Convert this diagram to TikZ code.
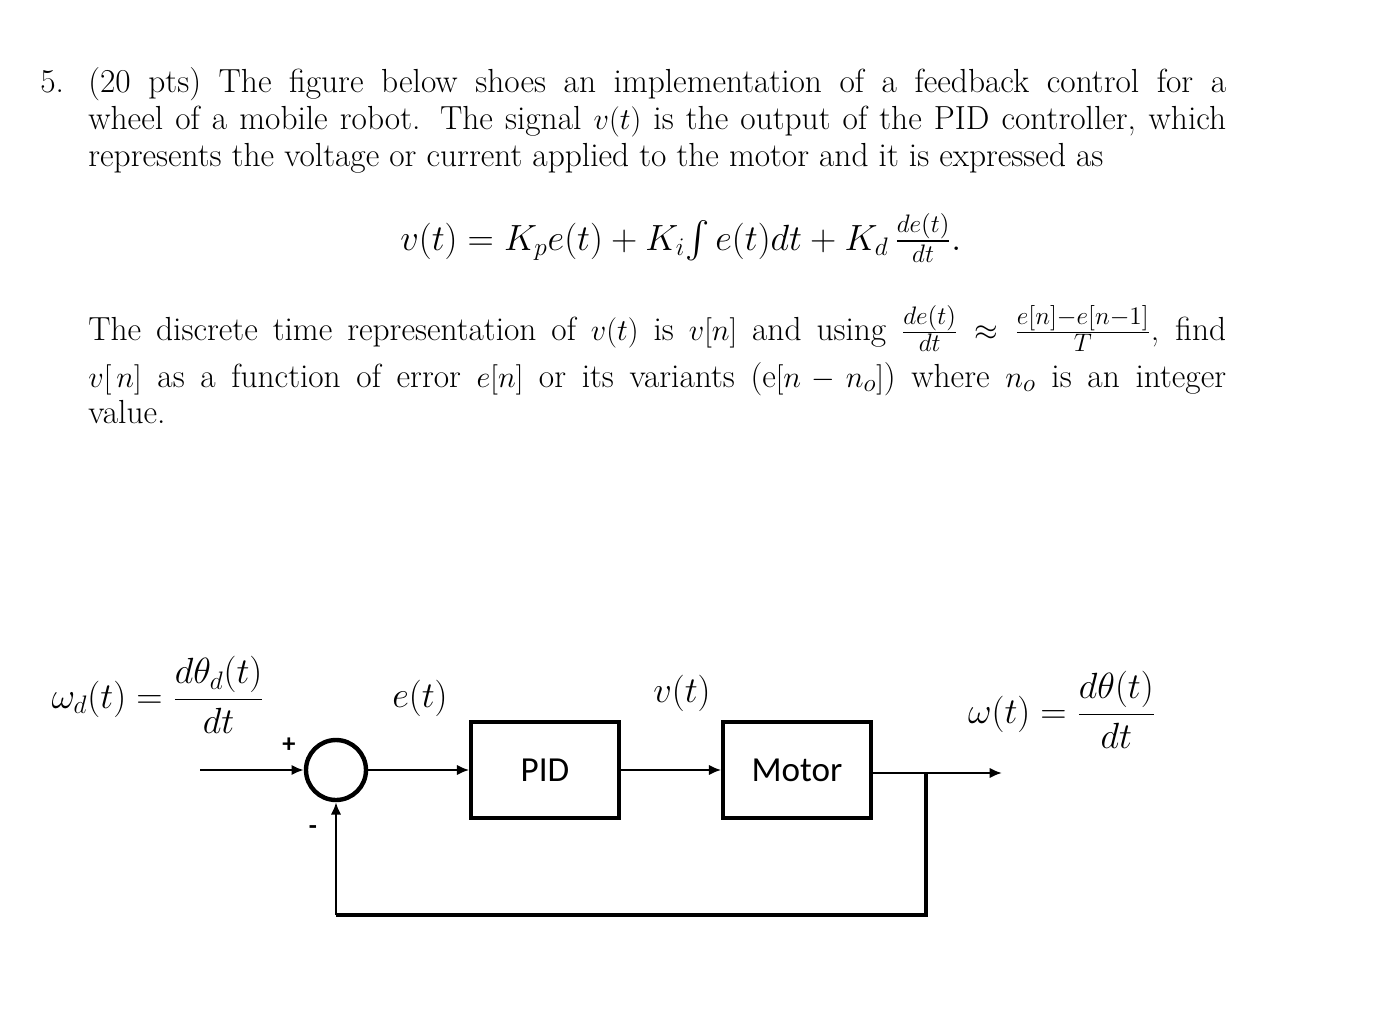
\documentclass[tikz,border=0pt]{standalone}
\usepackage{amsmath}
\usepackage{fontspec}
\setsansfont{Carlito}
\usetikzlibrary{arrows.meta}
\begin{document}
\begin{tikzpicture}[x=0.02cm,y=-0.02cm,
  txt/.style={anchor=base west,inner sep=0,font=\fontsize{19}{22}\selectfont},
  blk/.style={draw,line width=2pt,minimum width=2.96cm,minimum height=1.92cm,font=\sffamily\fontsize{20}{24}\selectfont},
  lbl/.style={font=\fontsize{20}{24}\selectfont},
  sig/.style={line width=1.5pt,-{Latex[length=7pt,width=6pt]}},
  ln/.style={line width=1.8pt}]
\useasboundingbox (0,0) rectangle (1386,1022);
\node[txt] (q5) at (40,92) {5.};
\node[txt] (l1) at (88,92) {\makebox[22.76cm][s]{(20 pts) The figure below shoes an implementation of a feedback control for a}};
\node[txt] (l2) at (88,129) {\makebox[22.76cm][s]{wheel of a mobile robot. The signal $v(t)$ is the output of the PID controller, which}};
\node[txt] (l3) at (88,166) {represents the voltage or current applied to the motor and it is expressed as};
\node[txt,font=\fontsize{19.5}{22}\selectfont] (eq) at (400,250) {$v(t) = K_p e(t) + K_i\!\int e(t)dt + K_d\,\frac{de(t)}{dt}.$};
\node[txt] (l4) at (88,340) {\makebox[22.76cm][s]{The discrete time representation of $v(t)$ is $v[n]$ and using $\frac{de(t)}{dt}\approx\frac{e[n]-e[n-1]}{T}$, find}};
\node[txt] (l5) at (88,387) {\makebox[22.76cm][s]{$v[\,n]$ as a function of error $e[n]$ or its variants (e$[n-n_o]$) where $n_o$ is an integer}};
\node[txt] (l6) at (88,423) {value.};
\node[draw,circle,line width=2.5pt,minimum size=1.2cm,inner sep=0] (sum) at (336,770) {};
\node[blk] (pid) at (545,770) {PID};
\node[blk] (mot) at (797,770) {Motor};
\coordinate (in) at (200,770);
\coordinate (out) at (1002,773);
\coordinate (br) at (926,773);
\coordinate (c1) at (926,915);
\coordinate (c2) at (336,915);
\draw[sig] (in) -- (sum.west);
\draw[sig] (sum.east) -- (pid.west);
\draw[sig] (pid.east) -- (mot.west);
\draw[sig] (mot.east |- out) -- (out);
\draw[ln] (br) -- (c1) -- (c2);
\draw[sig] (c2) -- (sum.south);
\node[font=\sffamily\bfseries\fontsize{15}{18}\selectfont] (plus) at (289,745) {+};
\node[font=\sffamily\bfseries\fontsize{15}{18}\selectfont] (minus) at (313,830) {-};
\node[lbl] (et) at (420,698) {$e(t)$};
\node[lbl] (vt) at (682,693) {$v(t)$};
\node[lbl] (wd) at (158,695) {$\omega_d(t)=\dfrac{d\theta_d(t)}{dt}$};
\node[lbl] (w) at (1062,710) {$\omega(t)=\dfrac{d\theta(t)}{dt}$};
\end{tikzpicture}
\end{document}
